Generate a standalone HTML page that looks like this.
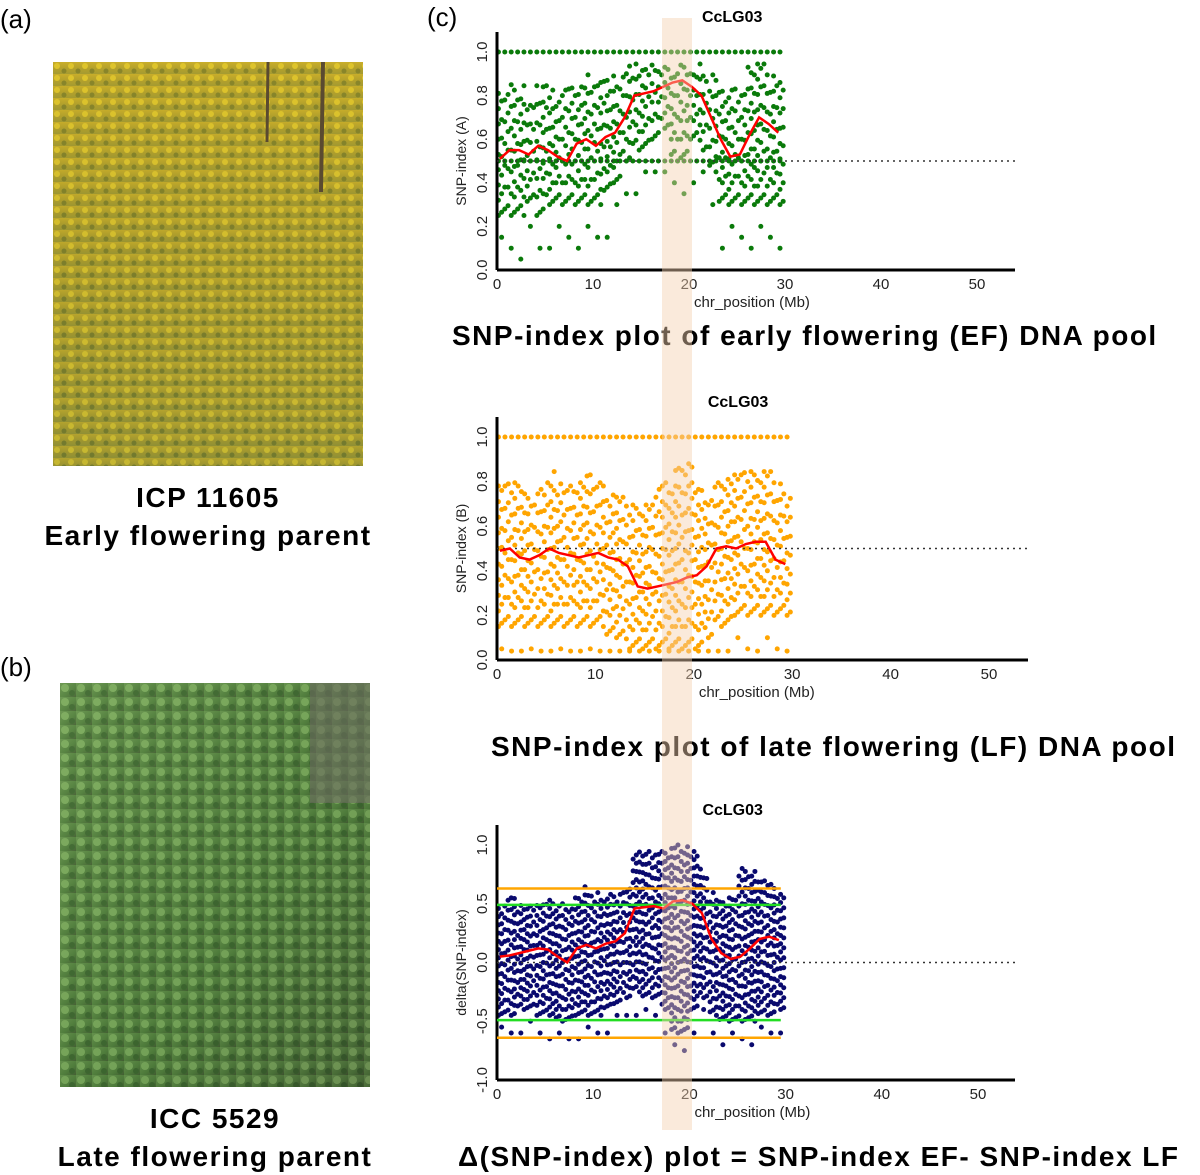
<!DOCTYPE html>
<html><head><meta charset="utf-8">
<style>
body{margin:0;width:1200px;height:1175px;background:#fff;font-family:"Liberation Sans",sans-serif;overflow:hidden;position:relative}
.t{position:absolute;font-weight:bold;color:#000;white-space:nowrap}
.cap{font-size:28px;letter-spacing:1.5px}
</style></head><body>
<div class="t" style="left:0;top:4px;font-size:26px;font-weight:normal">(a)</div>
<div class="t" style="left:0;top:652px;font-size:26px;font-weight:normal">(b)</div>
<div class="t" style="left:427px;top:2px;font-size:26px;font-weight:normal">(c)</div>

<svg style="position:absolute;left:53px;top:62px" width="310" height="404">
<defs><linearGradient id="ga" x1="0" y1="0" x2="0" y2="1"><stop offset="0" stop-color="#c9ae2a"/><stop offset="0.5" stop-color="#a89a2c"/><stop offset="1" stop-color="#8e8f36"/></linearGradient>
<pattern id="pa" width="14" height="12" patternUnits="userSpaceOnUse"><rect width="14" height="12" fill="url(#ga)"/><circle cx="4" cy="4" r="3" fill="#ecd22e"/><circle cx="11" cy="9" r="2.5" fill="#5f6b2a"/></pattern></defs>
<rect width="310" height="404" fill="url(#ga)"/><rect width="310" height="404" fill="url(#pa)" opacity="0.6"/>
<line x1="270" y1="0" x2="268" y2="130" stroke="#5a4a30" stroke-width="4"/><line x1="215" y1="0" x2="214" y2="80" stroke="#5a4a30" stroke-width="3"/>
</svg>
<div class="t cap" style="left:23px;width:370px;text-align:center;top:482px">ICP 11605</div>
<div class="t cap" style="left:13px;width:390px;text-align:center;top:520px">Early flowering parent</div>

<svg style="position:absolute;left:60px;top:683px" width="310" height="404">
<defs><linearGradient id="gb" x1="0" y1="0" x2="1" y2="1"><stop offset="0" stop-color="#6f9a55"/><stop offset="0.6" stop-color="#4d7a3a"/><stop offset="1" stop-color="#3a4a2c"/></linearGradient>
<pattern id="pb" width="16" height="14" patternUnits="userSpaceOnUse"><rect width="16" height="14" fill="url(#gb)"/><circle cx="5" cy="5" r="4" fill="#8cbb6a"/><circle cx="12" cy="10" r="3" fill="#2f5526"/></pattern></defs>
<rect width="310" height="404" fill="url(#gb)"/><rect width="310" height="404" fill="url(#pb)" opacity="0.6"/>
<rect x="250" y="0" width="60" height="120" fill="#6d6a60" opacity="0.6"/>
</svg>
<div class="t cap" style="left:30px;width:370px;text-align:center;top:1103px">ICC 5529</div>
<div class="t cap" style="left:20px;width:390px;text-align:center;top:1141px">Late flowering parent</div>

<div class="t cap" style="left:452px;top:320px">SNP-index plot of early flowering (EF) DNA pool</div>
<div class="t cap" style="left:491px;top:731px">SNP-index plot of late flowering (LF) DNA pool</div>
<div class="t cap" style="left:458px;top:1141px">Δ(SNP-index) plot = SNP-index EF- SNP-index LF</div>

<svg id="charts" style="position:absolute;left:0;top:0" width="1200" height="1175"></svg>

<script>
// Red sliding-window averages at positions 0..29 Mb
const positions=[0,1,2,3,4,5,6,7,8,9,10,11,12,13,14,15,16,17,18,19,20,21,22,23,24,25,26,27,28,29];
const efIndex=[0.51,0.55,0.55,0.53,0.57,0.55,0.52,0.50,0.58,0.60,0.57,0.61,0.63,0.70,0.80,0.81,0.82,0.84,0.86,0.87,0.84,0.80,0.70,0.60,0.52,0.53,0.62,0.70,0.67,0.63];
const lfIndex=[0.49,0.50,0.46,0.45,0.47,0.50,0.48,0.47,0.46,0.47,0.48,0.46,0.45,0.42,0.33,0.32,0.33,0.34,0.35,0.37,0.38,0.42,0.50,0.51,0.50,0.52,0.53,0.53,0.45,0.43];
const deltaIndex=[0.05,0.06,0.08,0.10,0.12,0.11,0.05,0.00,0.12,0.15,0.12,0.16,0.18,0.25,0.46,0.47,0.48,0.46,0.52,0.53,0.50,0.42,0.20,0.08,0.03,0.05,0.12,0.20,0.22,0.19];
// dense point cloud extent per 1-Mb bin
const efLow=[0.25,0.25,0.25,0.3,0.25,0.3,0.3,0.3,0.3,0.3,0.3,0.35,0.4,0.5,0.55,0.55,0.6,0.65,0.5,0.5,0.6,0.55,0.45,0.3,0.3,0.3,0.3,0.3,0.3,0.3];
const efHigh=[0.85,0.85,0.85,0.8,0.85,0.85,0.8,0.85,0.85,0.9,0.9,0.9,0.9,0.95,0.95,0.95,0.95,0.95,0.95,0.95,0.95,0.95,0.9,0.85,0.85,0.85,0.95,0.95,0.9,0.9];
const lfLow=[0.15,0.15,0.15,0.15,0.15,0.15,0.15,0.15,0.15,0.15,0.15,0.1,0.1,0.05,0.05,0.05,0.05,0.05,0.05,0.05,0.05,0.1,0.15,0.15,0.2,0.2,0.2,0.2,0.2,0.2];
const lfHigh=[0.8,0.8,0.8,0.75,0.8,0.85,0.8,0.8,0.8,0.85,0.8,0.75,0.75,0.7,0.7,0.75,0.8,0.8,0.9,0.9,0.8,0.75,0.85,0.85,0.85,0.85,0.85,0.85,0.8,0.75];
const dLow=[-0.45,-0.45,-0.4,-0.4,-0.45,-0.45,-0.5,-0.5,-0.45,-0.45,-0.45,-0.4,-0.35,-0.3,-0.25,-0.3,-0.3,-0.4,-0.6,-0.6,-0.4,-0.3,-0.45,-0.5,-0.5,-0.5,-0.5,-0.45,-0.45,-0.4];
const dHigh=[0.5,0.55,0.5,0.5,0.55,0.55,0.5,0.5,0.6,0.65,0.6,0.6,0.6,0.65,0.95,0.95,0.95,0.95,1.0,1.0,0.95,0.8,0.6,0.55,0.55,0.8,0.8,0.75,0.7,0.6];
const xTicks=[0,10,20,30,40,50];

const S=document.getElementById('charts');const NS='http://www.w3.org/2000/svg';
function mk(t,a,p){const e=document.createElementNS(NS,t);for(const k in a)e.setAttribute(k,a[k]);(p||S).appendChild(e);return e;}
function chart(cfg){
  const X=v=>cfg.x0+(v/50)*(cfg.x50-cfg.x0);
  const Y=v=>cfg.yb+(v-cfg.ymin)/(cfg.ymax-cfg.ymin)*(cfg.yt-cfg.yb);
  const g=mk('g',{});
  
  
  const pg=mk('g',{fill:cfg.color},g);
  
  
  for(let i=0;i<positions.length;i++){
    for(let s=0;s<3;s++){
      const px=positions[i]+0.15+s*0.33;
      const lo=cfg.low[i],hi=cfg.high[i];
      const step=0.07+((i+s)%3)*0.015;
      for(let v=lo+((i*3+s)%4)*0.015;v<=hi;v+=step){mk('circle',{cx:X(px),cy:Y(v),r:2.5},pg);}
      if(cfg.rows)for(const r of cfg.rows){if((i+s)%2===0)mk('circle',{cx:X(px),cy:Y(r),r:2.5},pg);}
      if(s===1){mk('circle',{cx:X(px),cy:Y(Math.max(cfg.ymin+0.04,lo-0.1-(i%3)*0.05)),r:2.5},pg);}
    }
  }
  mk('line',{x1:cfg.x0,y1:cfg.yb,x2:cfg.xe,y2:cfg.yb,stroke:'#000','stroke-width':3},g);
  mk('line',{x1:cfg.x0,y1:cfg.yb,x2:cfg.x0,y2:cfg.yt-20,stroke:'#000','stroke-width':3},g);
  mk('line',{x1:cfg.x0,y1:Y(cfg.ref),x2:cfg.xe,y2:Y(cfg.ref),stroke:'#333','stroke-width':1.5,'stroke-dasharray':'2,4'},g);
  if(cfg.th){for(const t of cfg.th){mk('line',{x1:X(0),y1:Y(t[0]),x2:X(29.5),y2:Y(t[0]),stroke:t[1],'stroke-width':2.5},g);}}
  let d='';positions.forEach((p,i)=>{d+=(i?'L':'M')+X(p+0.3)+','+Y(cfg.line[i]);});
  const l=mk('path',{d:d,fill:'none',stroke:'#f00','stroke-width':2.5},g);
  
  
  xTicks.forEach(t=>{const e=mk('text',{x:X(t),y:cfg.yb+19,'font-size':15,'text-anchor':'middle',fill:'#222'},g);e.textContent=t;});
  cfg.yTicks.forEach(t=>{const e=mk('text',{x:0,y:0,'font-size':15,'text-anchor':'middle',fill:'#222',transform:`translate(${cfg.x0-10},${Y(t)}) rotate(-90)`},g);e.textContent=t.toFixed(1);});
  let e=mk('text',{x:0,y:0,'font-size':14,'text-anchor':'middle',fill:'#222',transform:`translate(${cfg.x0-31},${(cfg.yb+cfg.yt)/2}) rotate(-90)`},g);e.textContent=cfg.ylabel;
  e=mk('text',{x:X(20)+63,y:cfg.yb+37,'font-size':15,'text-anchor':'middle',fill:'#222'},g);e.textContent='chr_position (Mb)';
  e=mk('text',{x:X(24.5),y:cfg.yt-30,'font-size':16,'font-weight':'bold','text-anchor':'middle'},g);e.textContent='CcLG03';
}
chart({name:'ef-snp-chart',x0:497,x50:977,xe:1015,yb:270,yt:52,ymin:0,ymax:1,ref:0.5,color:'#0a7a0a',low:efLow,high:efHigh,rows:[1.0,0.5],line:efIndex,yTicks:[0,0.2,0.4,0.6,0.8,1.0],ylabel:'SNP-index (A)'});
chart({name:'lf-snp-chart',x0:497,x50:989,xe:1028,yb:660,yt:437,ymin:0,ymax:1,ref:0.5,color:'#ffa500',low:lfLow,high:lfHigh,rows:[1.0],line:lfIndex,yTicks:[0,0.2,0.4,0.6,0.8,1.0],ylabel:'SNP-index (B)'});
chart({name:'delta-snp-chart',x0:497,x50:978,xe:1015,yb:1080,yt:845,ymin:-1,ymax:1,ref:0,color:'#0a0a6e',low:dLow,high:dHigh,rows:null,line:deltaIndex,yTicks:[-1,-0.5,0,0.5,1.0],ylabel:'delta(SNP-index)',th:[[0.63,'#ffa500'],[-0.64,'#ffa500'],[0.49,'#22dd22'],[-0.49,'#22dd22']]});
const band=mk('rect',{x:662,y:18,width:30,height:1112,fill:'#f5d0b0','fill-opacity':0.45});


</script>
</body></html>
